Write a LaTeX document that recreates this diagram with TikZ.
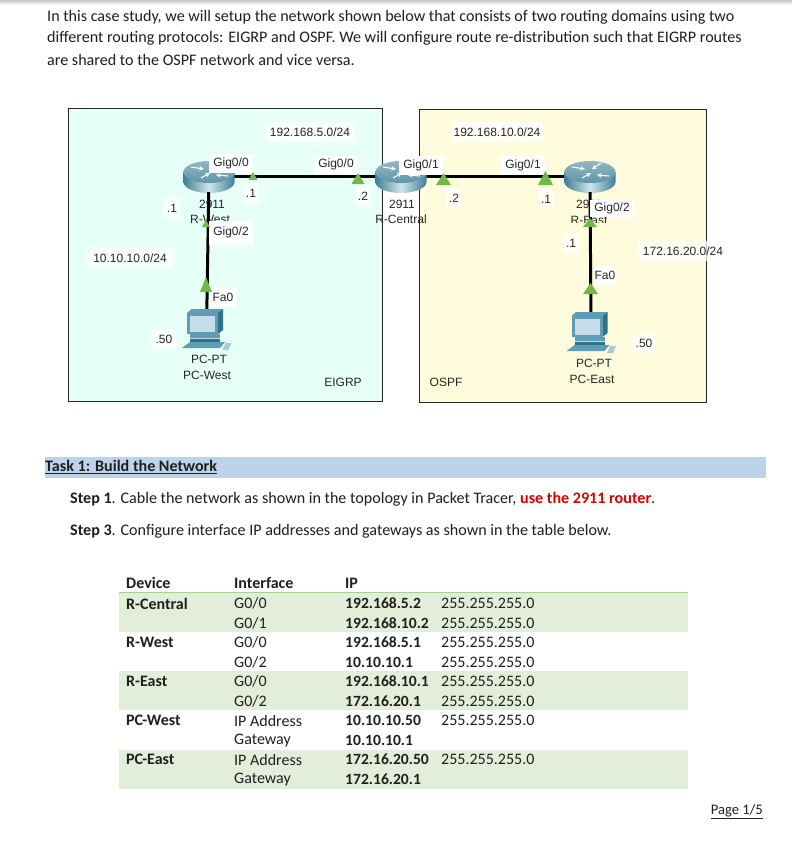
\documentclass[tikz,border=0pt]{standalone}
\usepackage{fontspec}
\setmainfont{Carlito}
\newfontfamily\pkt{Liberation Sans}
\usetikzlibrary{calc}
\definecolor{eigrpbg}{HTML}{E6FFF7}
\definecolor{ospfbg}{HTML}{FFFCDD}
\definecolor{tri}{HTML}{70B84A}
\definecolor{band}{HTML}{E2EEDA}
\definecolor{bandline}{HTML}{A9D08E}
\definecolor{taskbar}{HTML}{BDD3EA}
\definecolor{rtopa}{HTML}{93B7C5}
\definecolor{rtopb}{HTML}{5F94A7}
\definecolor{rdark}{HTML}{3F7F95}
\definecolor{rlight}{HTML}{CFE5EC}
\definecolor{pcdark}{HTML}{2F7286}
\definecolor{pcscreen}{HTML}{C6DCE8}
\definecolor{pcmid}{HTML}{5E9DB5}
\definecolor{pclight}{HTML}{A8CBD8}
\tikzset{
  body/.style={anchor=west,inner sep=0pt,yshift=-0.7pt,font=\fontsize{16.1}{18}\selectfont,text=black!88},
  cell/.style={anchor=west,inner sep=0pt,yshift=-0.5pt,font=\fontsize{16}{18}\selectfont,text=black!88},
  bcell/.style={cell,font=\fontsize{16}{18}\selectfont\bfseries},
  ipcell/.style={cell,font=\fontsize{15.6}{18}\selectfont\bfseries},
  lbl/.style={inner sep=0pt,font=\pkt\fontsize{12}{14}\selectfont,text=black!85},
  gig/.style={lbl,fill=white,minimum height=19pt,minimum width=#1},
  gig/.default=44pt,
  net/.style={lbl,fill=white,fill opacity=.75,text opacity=1,minimum height=20pt,minimum width=#1},
  domainbox/.style={draw=black!85,line width=1pt},
  cable/.style={line width=3pt,black},
  anchorbox/.style={inner sep=0pt,minimum width=#1,minimum height=29pt},
  rarrow/.style={white,line width=1.1pt,->,>=stealth},
}
\newcommand{\routerpic}[2]{%
  \begin{scope}[shift={(#1,#2)}]
    \shade[left color=rdark,right color=rdark,middle color=rlight]
      (-25.5,-4.5) -- (25.5,-4.5) -- (25.5,5.5)
      arc[start angle=0,end angle=180,x radius=25.5,y radius=11] -- cycle;
    \shade[top color=rtopa,bottom color=rtopb] (0,-4.5) ellipse[x radius=25.5,y radius=11];
    \draw[rarrow] (-18,-9.5) -- (-5,-7.5);
    \draw[rarrow] (19,-0.5) -- (7,-1.5);
    \draw[rarrow] (11,-13.5) -- (2,-7.5);
    \draw[rarrow] (-8,1.5) -- (1,-3.5);
  \end{scope}}
\newcommand{\pcpic}[2]{%
  \begin{scope}[shift={(#1,#2)}]
    \fill[pcmid] (-15,-21) -- (16.5,-21) -- (11.5,-17) -- (-19.5,-17) -- cycle;
    \fill[pcdark] (11.5,-17) -- (16.5,-21) -- (16.5,0) -- (11.5,4) -- cycle;
    \fill[pcmid] (-19.5,-17) rectangle (11.5,4);
    \fill[pcscreen] (-16.5,-14) rectangle (8.5,2);
    \fill[pcmid] (-16.5,4) rectangle (13.5,8);
    \fill[pcscreen] (-16.5,8) rectangle (13.5,9);
    \fill[pcdark] (-16.5,9) rectangle (13.5,12);
    \fill[pcmid] (-16.5,12) -- (18.5,12) -- (13.5,18) -- (-24.5,18) -- cycle;
    \fill[pclight] (19,13) -- (25,13) -- (22,20) -- (16,20) -- cycle;
  \end{scope}}
\newcommand{\trimark}[4]{\fill[tri] (#1-#3/2,#2) -- (#1,#2-#4) -- (#1+#3/2,#2) -- cycle;}
\begin{document}
\begin{tikzpicture}[x=1pt,y=-1pt]
\useasboundingbox (0,0) rectangle (792,844);
\fill[white] (0,0) rectangle (792,844);
\shade[top color=black!22,bottom color=white] (0,0) rectangle (792,5);

% intro
\node[body] (introa) at (47,17) {In this case study, we will setup the network shown below that consists of two routing domains using two};
\node[body] (introb) at (47,38) {different routing protocols: EIGRP and OSPF. We will configure route re-distribution such that EIGRP routes};
\node[body] (introc) at (47,59) {are shared to the OSPF network and vice versa.};

% domains
\fill[eigrpbg] (68,108) rectangle (382,401);
\draw[domainbox] (68,108) rectangle (382,401);
\fill[ospfbg] (419,109) rectangle (706,402);
\draw[domainbox] (419,109) rectangle (706,402);

% device captions under cables
\node[lbl] (cw) at (212,204) {2911};
\begin{scope}
  \clip (150,200) rectangle (260,222.5);
  \node[lbl] (nw) at (210,219.5) {R-West};
\end{scope}
\node[lbl] (cc) at (402,204) {2911};
\node[lbl] (nc) at (401,219) {R-Central};
\node[lbl] (ce) at (589,204) {2911};
\begin{scope}
  \clip (540,200) rectangle (640,222.5);
  \node[lbl] (ne) at (589,220) {R-East};
\end{scope}

% device anchors
\node[anchorbox=50pt] (rw) at (209,176.5) {};
\node[anchorbox=50pt] (rc) at (401,176.5) {};
\node[anchorbox=50pt] (re) at (590,176.5) {};
\node[inner sep=0pt,minimum width=36pt,minimum height=40pt] (pw) at (206.5,330) {};
\node[inner sep=0pt,minimum width=36pt,minimum height=40pt] (pe) at (591,333) {};

% cables
\draw[cable] (rw.center) -- (rc.center);
\draw[cable] (rc.center) -- (re.center);

% devices
\routerpic{209}{176.5}
\routerpic{401}{176.5}
\routerpic{590}{176.5}
\begin{scope}
  \clip (150,192) rectangle (660,320);
  \draw[cable] (rw.center) -- (pw.center);
  \draw[cable] (re.center) -- (pe.center);
\end{scope}
\pcpic{206.5}{330}
\pcpic{591}{333}

% labels with white boxes
\node[net=90pt] (n1) at (310,132) {192.168.5.0/24};
\node[net=92pt] (n2) at (497,132) {192.168.10.0/24};
\node[net=86pt] (n3) at (130,258) {10.10.10.0/24};
\node[net=90pt] (n4) at (683,251) {172.16.20.0/24};
\node[gig] (g1) at (231,163) {Gig0/0};
\node[gig] (g2) at (336,164) {Gig0/0};
\node[gig] (g3) at (421,165) {Gig0/1};
\node[gig] (g4) at (523,165) {Gig0/1};
\node[gig,minimum height=24pt] (g5) at (231,232.5) {Gig0/2};
\node[gig,minimum height=17pt] (g6) at (612,208) {Gig0/2};
\node[gig=28pt] (f1) at (223,297) {Fa0};
\node[gig=22pt] (f2) at (605,275) {Fa0};
\node[net=16pt] (d1) at (251,193) {.1};
\node[net=16pt] (d2) at (363,196) {.2};
\node[net=16pt] (d3) at (172,208) {.1};
\node[net=16pt] (d4) at (454,198) {.2};
\node[net=16pt] (d5) at (546,199) {.1};
\node[net=16pt] (d6) at (571,243) {.1};
\node[net=24pt] (d7) at (164,339) {.50};
\node[net=24pt] (d8) at (644,343) {.50};
\node[lbl] (t1) at (209,359) {PC-PT};
\node[lbl] (t2) at (207,375) {PC-West};
\node[lbl] (t3) at (594,363) {PC-PT};
\node[lbl] (t4) at (592,379) {PC-East};
\node[lbl] (t5) at (343,382) {EIGRP};
\node[lbl] (t6) at (446,382) {OSPF};

% link lights
\trimark{253}{180}{9}{8}
\trimark{358}{184}{13}{11}
\trimark{443.5}{185}{15}{12}
\trimark{545.5}{185}{15}{14}
\trimark{206}{227}{8}{7}
\trimark{206}{292}{12}{15}
\trimark{590}{227}{14}{9}
\trimark{590.5}{294}{15}{11}

% task heading
\fill[taskbar] (45,457) rectangle (766,478);
\node[body,font=\fontsize{16.1}{18}\selectfont\bfseries] (task) at (45,466) {\underline{Task 1: Build the Network}};
\node[body] (s1) at (70,498.7) {\textbf{Step 1}. Cable the network as shown in the topology in Packet Tracer, \textcolor{red!85!black}{\textbf{use the 2911 router}}.};
\node[body] (s3) at (70,530.7) {\textbf{Step 3}. Configure interface IP addresses and gateways as shown in the table below.};

% table
\fill[band] (119,593) rectangle (688,632);
\fill[band] (119,671) rectangle (688,710);
\fill[band] (119,750) rectangle (688,789);
\draw[bandline,line width=1pt] (119,592.5) -- (688,592.5);
\node[bcell] (h1) at (126,582.5) {Device};
\node[bcell] (h2) at (234,582.5) {Interface};
\node[bcell] (h3) at (345,582.5) {IP};
\node[bcell] (a1) at (126,603) {R-Central};
\node[cell] (b1) at (234,603) {G0/0};
\node[ipcell] (c1) at (345,603) {192.168.5.2};
\node[cell] (m1) at (441,603) {255.255.255.0};
\node[cell] (b2) at (234,622.5) {G0/1};
\node[ipcell] (c2) at (345,622.5) {192.168.10.2};
\node[cell] (m2) at (441,622.5) {255.255.255.0};
\node[bcell] (a3) at (126,642) {R-West};
\node[cell] (b3) at (234,642) {G0/0};
\node[ipcell] (c3) at (345,642) {192.168.5.1};
\node[cell] (m3) at (441,642) {255.255.255.0};
\node[cell] (b4) at (234,661.5) {G0/2};
\node[ipcell] (c4) at (345,661.5) {10.10.10.1};
\node[cell] (m4) at (441,661.5) {255.255.255.0};
\node[bcell] (a5) at (126,681) {R-East};
\node[cell] (b5) at (234,681) {G0/0};
\node[ipcell] (c5) at (345,681) {192.168.10.1};
\node[cell] (m5) at (441,681) {255.255.255.0};
\node[cell] (b6) at (234,700.5) {G0/2};
\node[ipcell] (c6) at (345,700.5) {172.16.20.1};
\node[cell] (m6) at (441,700.5) {255.255.255.0};
\node[bcell] (a7) at (126,720) {PC-West};
\node[cell] (b7) at (234,720) {IP Address};
\node[ipcell] (c7) at (345,720) {10.10.10.50};
\node[cell] (m7) at (441,720) {255.255.255.0};
\node[cell] (b8) at (234,740) {Gateway};
\node[ipcell] (c8) at (345,740) {10.10.10.1};
\node[bcell] (a9) at (126,759) {PC-East};
\node[cell] (b9) at (234,759) {IP Address};
\node[ipcell] (c9) at (345,759) {172.16.20.50};
\node[cell] (m9) at (441,759) {255.255.255.0};
\node[cell] (b10) at (234,779) {Gateway};
\node[ipcell] (c10) at (345,779) {172.16.20.1};

\node[body,anchor=east,font=\fontsize{14.6}{18}\selectfont] (page) at (763,810.5) {\underline{Page 1/5}};
\end{tikzpicture}
\end{document}
